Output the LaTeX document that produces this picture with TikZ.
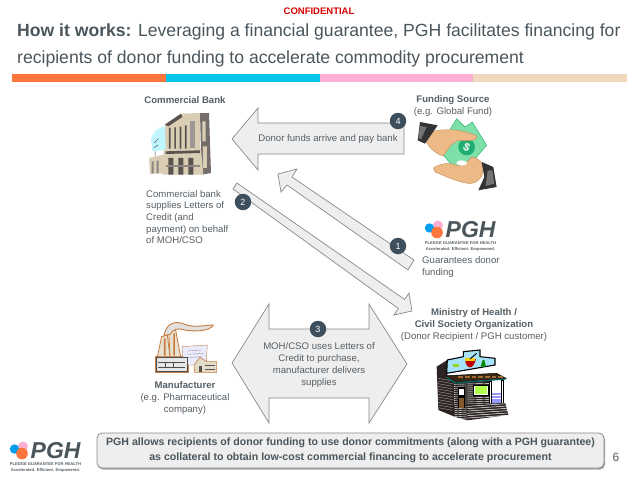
\documentclass[tikz,border=0pt]{standalone}
\usepackage{fontspec}
\setmainfont{Liberation Sans}
\usetikzlibrary{shadows}
\definecolor{txt}{HTML}{555F66}
\definecolor{ttl}{HTML}{4A555C}
\definecolor{blk}{HTML}{EEEEEE}
\definecolor{bdr}{HTML}{8A8A8A}
\definecolor{dot}{HTML}{3D4F5C}
\definecolor{barA}{HTML}{FF763C}
\definecolor{barB}{HTML}{06C4EC}
\definecolor{barC}{HTML}{FDB0D4}
\definecolor{barD}{HTML}{EFD9BC}
\definecolor{skin}{HTML}{EDB987}
\definecolor{skinD}{HTML}{C98D58}
\definecolor{cash}{HTML}{7FDFA8}
\definecolor{cashD}{HTML}{1FAE72}
\definecolor{stone}{HTML}{D9CDB4}
\definecolor{stoneD}{HTML}{5B5350}
\definecolor{rust}{HTML}{C87B3E}
\definecolor{wall}{HTML}{2B2422}
\tikzset{
 x=1pt,y=-1pt,
 lbl/.style={text=txt,font=\fontsize{9.6}{11.7}\selectfont,inner sep=0pt,align=left},
 clbl/.style={lbl,align=center},
 hd/.style={clbl,font=\fontsize{9.6}{11.7}\selectfont\bfseries},
 blockar/.style={fill=blk,draw=bdr,line width=.7pt,line join=miter},
 num/.style={circle,fill=dot,text=white,minimum size=16.5pt,inner sep=0pt,font=\fontsize{9}{10}\selectfont},
 art/.style={shift={#1},scale=.3333},
 tiny/.style={inner sep=0pt,text=txt,font=\fontsize{4.1}{5}\selectfont\bfseries},
}
\newcommand{\pghlogo}[2]{%
 \begin{scope}[shift={#1}]
  \fill[barC] (14,3.5) circle (5);
  \fill[barB!80!blue] (5.5,6) circle (4.7);
  \fill[barA] (13,10.5) circle (5.8);
  \node[anchor=west,inner sep=0pt,text=ttl,font=\fontsize{23}{24}\selectfont\bfseries\itshape] (#2a) at (21.5,8) {PGH};
  \node[tiny] (#2b) at (36.5,21) {PLEDGE GUARANTEE FOR HEALTH};
  \node[tiny] (#2c) at (36.5,27) {Accelerated. Efficient. Empowered.};
 \end{scope}}
\begin{document}
\begin{tikzpicture}
\useasboundingbox (0,0) rectangle (638,479);
\fill[white] (0,0) rectangle (638,479);
\node[font=\fontsize{9.5}{10}\selectfont\bfseries,text=red!85!black,inner sep=0pt] (conf) at (319,11) {CONFIDENTIAL};
\node[anchor=west,inner sep=0pt,text=ttl,font=\fontsize{17.6}{27}\selectfont,align=left] (title) at (17,45.5)
 {\textbf{How it works:} Leveraging a financial guarantee, PGH facilitates financing for\\recipients of donor funding to accelerate commodity procurement};
\fill[barA] (12,74) rectangle (166,82);
\fill[barB] (166,74) rectangle (320,82);
\fill[barC] (320,74) rectangle (473,82);
\fill[barD] (473,74) rectangle (627,82);
% arrows
\draw[blockar] (232,139)--(258,108)--(258,123)--(404,123)--(404,154)--(258,154)--(258,170)--cycle;
\draw[blockar] (278,174)--(297,169)--(292,177)--(414,260)--(408,270)--(287,185)--(281,192)--cycle;
\draw[blockar] (237,183)--(404.7,299.5)--(409,293)--(412,311)--(394,315)--(398.3,308.5)--(233,189)--cycle;
\draw[blockar] (232,363)--(269,304)--(269,329)--(369,329)--(369,304)--(407,364)--(369,423)--(369,398)--(269,398)--(269,423)--cycle;
\node[clbl] (t4) at (328,139) {Donor funds arrive and pay bank};
\node[clbl] (t3) at (319,365) {MOH/CSO uses Letters of\\Credit to purchase,\\manufacturer delivers\\supplies};
\node[num] (n4) at (398,121) {4};
\node[num] (n2) at (243,202) {2};
\node[num] (n1) at (398,246) {1};
\node[num] (n3) at (318,329) {3};
% labels
\node[hd] (bank) at (185,100) {Commercial Bank};
\node[lbl,anchor=north west] (banktxt) at (146,190) {Commercial bank\\supplies Letters of\\Credit (and\\payment) on behalf\\of MOH/CSO};
\node[clbl] (fund) at (453,106) {\textbf{Funding Source}\\(e.g. Global Fund)};
\node[lbl,anchor=north west] (guar) at (422,256.5) {Guarantees donor\\funding};
\node[clbl] (manu) at (185,398) {\textbf{Manufacturer}\\(e.g. Pharmaceutical\\company)};
\node[clbl] (moh) at (474,325) {\textbf{Ministry of Health /}\\\textbf{Civil Society Organization}\\(Donor Recipient / PGH customer)};
% bank clipart
\begin{scope}[art={(145,108)}]
 \fill[blue!15!cyan!25] (18,95) .. controls (25,70) and (35,60) .. (62,55) -- (70,125) -- (22,130) -- cycle;
 \draw[stoneD,line width=.5pt] (28,105)--(40,92) (26,120)--(40,110) (30,130)--(30,150);
 \fill[stone] (12,150)--(55,140)--(62,195)--(15,198)--cycle;
 \fill[stoneD!70] (20,160) rectangle (26,196) (35,158) rectangle (41,196);
 \fill[stone] (60,48)--(108,17)--(165,15)--(165,125)--(62,125)--cycle;
 \fill[stoneD] (60,50)--(108,17)--(112,27)--(70,55)--cycle;
 \fill[stoneD] (72,60) rectangle (77,122) (88,58) rectangle (93,122) (104,56) rectangle (109,122) (120,52) rectangle (125,122);
 \fill[stoneD!60] (135,40) rectangle (150,120);
 \fill[stoneD!85] (165,15)--(192,15)--(198,195)--(170,200)--cycle;
 \fill[stone] (172,40) rectangle (182,100) (174,115) rectangle (186,180);
 \fill[stone] (56,125)--(168,122)--(175,200)--(52,200)--cycle;
 \fill[stoneD] (62,130)--(165,127)--(165,135)--(62,138)--cycle;
 \fill[stoneD] (70,150) rectangle (85,200) (100,150) rectangle (115,200) (130,150) rectangle (145,200);
 \fill[stoneD!70] (62,170) rectangle (165,176);
\end{scope}
% hands clipart
\begin{scope}[art={(415,112)}]
 \fill[cash,draw=cashD,line width=.4pt] (100,60)--(125,20)--(150,45)--(172,30)--(215,100)--(155,170)--(125,175)--(85,130)--cycle;
 \fill[cashD] (155,105) circle (25);
 \node[text=white,font=\fontsize{11}{11}\selectfont\bfseries,inner sep=0pt,rotate=-25] (dollar) at (155,105) {\$};
 \fill[skin,draw=skinD,line width=.4pt] (40,62) .. controls (80,48) and (140,50) .. (185,72) .. controls (190,85) and (165,88) .. (130,85) .. controls (110,92) and (95,115) .. (85,132) .. controls (60,125) and (40,105) .. (32,85) -- cycle;
 \fill[black!80] (15,30)--(68,40)--(30,95)--(8,85)--cycle;
 \fill[black!55] (15,42)--(35,45)--(18,82)--(10,78)--cycle;
 \fill[skin,draw=skinD,line width=.4pt] (55,168) .. controls (75,155) and (100,150) .. (125,160) .. controls (140,165) and (160,150) .. (170,135) .. controls (190,135) and (205,155) .. (205,170) .. controls (205,195) and (185,215) .. (165,215) .. controls (125,210) and (85,190) .. (60,180) -- cycle;
 \fill[white] (140,153) ellipse (16 and 8);
 \fill[black!80] (200,150)--(235,165)--(245,225)--(190,235)--(208,195)--cycle;
 \fill[black!55] (218,175)--(232,175)--(238,215)--(212,222)--cycle;
\end{scope}
% factory clipart
\begin{scope}[art={(150,315)}]
 \fill[rust] (14,122) rectangle (118,175);
 \fill[stone!60,draw=rust,line width=.8pt] (35,65)--(52,60)--(60,125)--(22,125)--cycle;
 \fill[stone!60,draw=rust,line width=.8pt] (56,45)--(76,40)--(92,125)--(60,125)--cycle;
 \fill[rust] (42,70) rectangle (47,122) (70,55) rectangle (75,122);
 \fill[black!12,draw=rust,line width=.9pt] (42,62) .. controls (48,25) and (75,15) .. (105,28) .. controls (135,40) and (165,30) .. (190,30) .. controls (180,50) and (130,50) .. (105,45) .. controls (85,38) and (70,42) .. (60,58) -- cycle;
 \fill[blue!8,draw=rust,line width=.4pt] (96,95)--(172,90)--(168,150)--(100,150)--cycle;
 \draw[stoneD!60,line width=.4pt] (112,108)--(155,105) (112,118)--(160,115) (112,128)--(155,125);
 \fill[cyan!12!black!12,draw=black!70,line width=.5pt] (18,128) rectangle (112,170);
 \draw[black!70,line width=.5pt] (24,142)--(106,142) (24,156)--(106,156) (45,142)--(45,156) (70,142)--(70,156);
 \fill[stone!70,draw=rust,line width=.6pt] (132,150)--(150,127)--(170,140)--(200,140)--(200,172)--(134,172)--cycle;
 \fill[stoneD] (146,152) rectangle (156,172);
 \draw[stoneD,line width=.5pt] (165,152)--(195,152) (165,162)--(195,162);
\end{scope}
% shop clipart
\begin{scope}[art={(430,345)}]
 \fill[wall] (20,65)--(52,45)--(52,92)--(72,112)--(76,216)--(25,195)--cycle;
 \fill[wall] (70,112)--(180,108)--(180,180)--(112,180)--(112,226)--(76,216)--cycle;
 \foreach \yy in {118,124,...,178} {\draw[white,line width=.4pt] (72,\yy)--(180,\yy-3);}
 \foreach \yy in {184,190,...,220} {\draw[white,line width=.4pt] (74,\yy)--(112,\yy+2);}
 \foreach \yy in {100,108,...,188} {\draw[white!70!wall,line width=.3pt] (24,\yy)--(68,\yy+8);}
 \fill[cyan!35,draw=black,line width=1.1pt] (52,45)--(100,35)--(100,20)--(150,15)--(150,35)--(195,40)--(195,60)--(50,85)--cycle;
 \fill[red!75!black] (105,45) .. controls (110,75) and (130,75) .. (138,42) -- cycle;
 \fill[yellow!70!orange] (105,40) rectangle (136,47);
 \draw[black,line width=.9pt] (120,42)--(140,25);
 \fill[green!55!black] (152,65)--(158,45)--(163,45)--(168,65)--cycle;
 \fill[yellow!60!green] (70,58) rectangle (88,66);
 \fill[black!70!brown,draw=black,line width=.5pt] (50,92)--(200,85)--(228,100)--(75,112)--cycle;
 \foreach \xx in {85,105,...,205} {\fill[brown!85!black] (\xx,92) rectangle ++(14,6);}
 \draw[teal!80!black,line width=1.2pt] (50,96)--(75,114)--(228,102);
 \fill[white,draw=black,line width=.4pt] (130,120) rectangle (176,152);
 \fill[green!45!yellow!70] (134,124) rectangle (172,148);
 \fill[black] (84,126) rectangle (106,190);
 \fill[white] (88,132) rectangle (102,150);
 \fill[brown!70!black] (88,160) rectangle (102,188);
 \fill[white] (184,108) rectangle (214,178);
 \fill[blue!40!white] (186,145) rectangle (214,176);
 \draw[white,line width=1pt] (186,152)--(214,152) (186,162)--(214,162);
 \fill[white,draw=black,line width=.5pt] (178,110) rectangle (184,178) (213,106) rectangle (219,178);
 \fill[wall] (110,178)--(226,174)--(235,210)--(112,226)--cycle;
 \foreach \yy in {184,191,...,219} {\draw[white,line width=.5pt] (112,\yy)--(232,\yy-8);}
\end{scope}
% logos
\pghlogo{(424,222)}{la}
\pghlogo{(9,443)}{lb}
% bottom
\node[draw=bdr,fill=blk,rounded corners=5pt,line width=.8pt,drop shadow={shadow xshift=1pt,shadow yshift=-1.5pt,fill=black!45,opacity=.8},minimum width=507pt,minimum height=35pt,inner sep=0pt,text=ttl,align=center,font=\fontsize{10.6}{15.5}\selectfont\bfseries] (box) at (350.5,450.5)
 {PGH allows recipients of donor funding to use donor commitments (along with a PGH guarantee)\\as collateral to obtain low-cost commercial financing to accelerate procurement};
\node[text=txt,font=\fontsize{12}{13}\selectfont,inner sep=0pt] (pg) at (616,457) {6};
\end{tikzpicture}
\end{document}
